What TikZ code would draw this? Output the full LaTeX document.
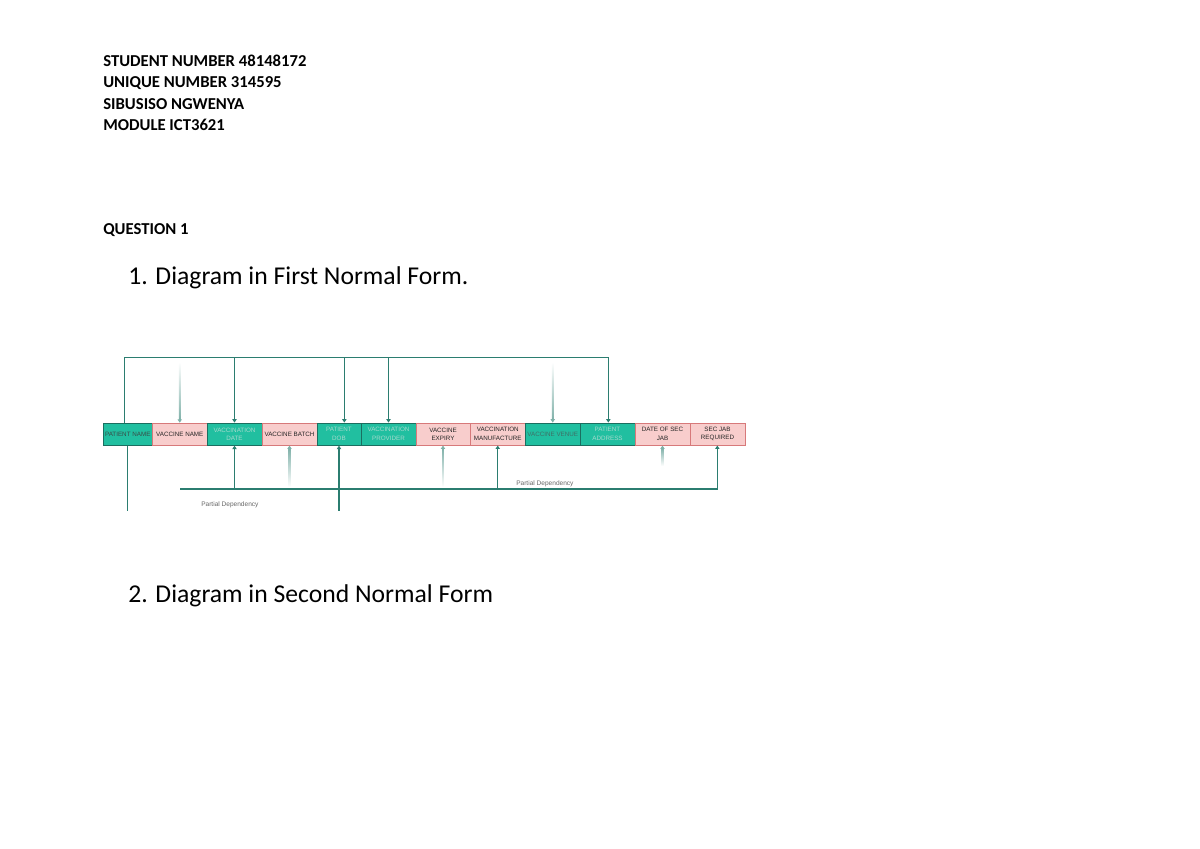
\documentclass[tikz,border=0pt]{standalone}
\usepackage{fontspec}
\setmainfont{Carlito}
\newfontfamily\arialf{Liberation Sans}
\usetikzlibrary{arrows.meta,calc}
\def\myu{0.70167pt}
\definecolor{tealfill}{HTML}{21BFA0}
\definecolor{tealedge}{HTML}{1B6E60}
\definecolor{pinkfill}{HTML}{F8CDCC}
\definecolor{pinkedge}{HTML}{D7797A}
\definecolor{linec}{HTML}{2B7D70}
\definecolor{darktxt}{HTML}{3A4A46}
\definecolor{lighttxt}{HTML}{A6D9CD}
\definecolor{midtxt}{HTML}{3F6F66}
\tikzset{
  x=0.70167pt, y=-0.70167pt,
  attr/.style={rectangle, inner sep=0pt, minimum height=22.3*\myu, align=center,
    font=\arialf\fontsize{4.4}{6}\selectfont},
  keyattr/.style={attr, fill=tealfill, draw=tealedge, line width=0.5pt},
  plainattr/.style={attr, fill=pinkfill, draw=pinkedge, line width=0.35pt, text=black!85},
  conn/.style={draw=linec, line width=0.8pt},
  arr/.style={conn, -{Triangle[width=3pt,length=2.4pt]}},
  fadearr/.style={line width=0.8pt, draw=linec!45, -{Triangle[width=3pt,length=2.4pt]}},
  hdr/.style={anchor=base west, inner sep=0pt, font=\bfseries\fontsize{11.7}{13}\selectfont},
  big/.style={anchor=base west, inner sep=0pt, font=\fontsize{18}{22}\selectfont},
  pdlabel/.style={anchor=west, inner sep=0pt, text=black!60, font=\arialf\fontsize{4.6}{6}\selectfont}
}
\begin{document}
\begin{tikzpicture}
\useasboundingbox (0,0) rectangle (1200,848);
% header texts
\node[hdr] (t1) at (103,66.7) {STUDENT NUMBER 48148172};
\node[hdr] (t2) at (103,87.7) {UNIQUE NUMBER 314595};
\node[hdr] (t3) at (103,109.3) {SIBUSISO NGWENYA};
\node[hdr] (t4) at (103,130) {MODULE ICT3621};
\node[hdr] (q1) at (103,234.3) {QUESTION 1};
\node[big] (h1) at (128,284) {1. Diagram in First Normal Form.};
\node[big] (h2) at (128,602.3) {2. Diagram in Second Normal Form};
% attribute boxes
\node[keyattr, minimum width=49.5*\myu, text=darktxt] (b1) at (127.75,434.1) {PATIENT NAME};
\node[plainattr, minimum width=54.5*\myu] (b2) at (179.75,434.1) {VACCINE NAME};
\node[keyattr, minimum width=55*\myu, text=lighttxt] (b3) at (234.5,434.1) {VACCINATION\\DATE};
\node[plainattr, minimum width=55*\myu] (b4) at (289.5,434.1) {VACCINE BATCH};
\node[keyattr, minimum width=44*\myu, text=lighttxt] (b5) at (339,434.1) {PATIENT\\DOB};
\node[keyattr, minimum width=55*\myu, text=lighttxt] (b6) at (388.5,434.1) {VACCINATION\\PROVIDER};
\node[plainattr, minimum width=54*\myu] (b7) at (443,434.1) {VACCINE\\EXPIRY};
\node[plainattr, minimum width=55.5*\myu] (b8) at (497.75,434.1) {VACCINATION\\MANUFACTURE};
\node[keyattr, minimum width=54.5*\myu, text=midtxt] (b9) at (552.75,434.1) {VACCINE VENUE};
\node[keyattr, minimum width=55*\myu, text=lighttxt] (b10) at (607.5,434.1) {PATIENT\\ADDRESS};
\node[plainattr, minimum width=55*\myu] (b11) at (662.5,434.1) {DATE OF SEC\\JAB};
\node[plainattr, minimum width=55*\myu] (b12) at (717.5,434.1) {SEC JAB\\REQUIRED};
% top dependency
\coordinate (tl) at (124.3,357.3);
\coordinate (tr) at (608.3,357.3);
\coordinate (dobtop) at (344.3,357.3);
\draw[arr] (b1.north -| tl) -- (tl) -- (tr) -- (tr |- b10.north);
\draw[arr] (tl -| b3.north) -- (b3.north);
\draw[arr] (dobtop) -- (dobtop |- b5.north);
\draw[arr] (tl -| b6.north) -- (b6.north);
\shade[top color=white, bottom color=linec!60] (178.9,362) rectangle (180.6,420);
\draw[fadearr, draw=linec!60] (179.75,418) -- (b2.north);
\shade[top color=white, bottom color=linec!60] (551.9,362) rectangle (553.6,420);
\draw[fadearr, draw=linec!60] (552.75,418) -- (b9.north);
% bottom partial dependency
\coordinate (bl) at (180,489);
\coordinate (br) at (717.3,489);
\draw[arr] (bl) -- (br) -- (br |- b12.south);
\draw[arr] (bl -| b3.south) -- (b3.south);
\draw[arr] (bl -| b8.south) -- (b8.south);
\coordinate (pnb) at (127.7,510.7);
\draw[conn] (pnb |- b1.south) -- (pnb);
\coordinate (dobb) at (339,510.7);
\draw[arr] (dobb) -- (b5.south);
% faded upward arrows
\shade[bottom color=white, top color=linec!60] (288.6,448) rectangle (290.3,487);
\draw[fadearr, draw=linec!60] (289.5,450) -- (b4.south);
\shade[bottom color=white, top color=linec!60] (442.1,448) rectangle (443.8,487);
\draw[fadearr, draw=linec!60] (443,450) -- (b7.south);
\shade[bottom color=white, top color=linec!60] (661.6,448) rectangle (663.3,466);
\draw[fadearr, draw=linec!60] (662.5,450) -- (b11.south);
% labels
\node[pdlabel] (pd1) at (201,505) {Partial Dependency};
\node[pdlabel] (pd2) at (516,483.3) {Partial Dependency};
\end{tikzpicture}
\end{document}
